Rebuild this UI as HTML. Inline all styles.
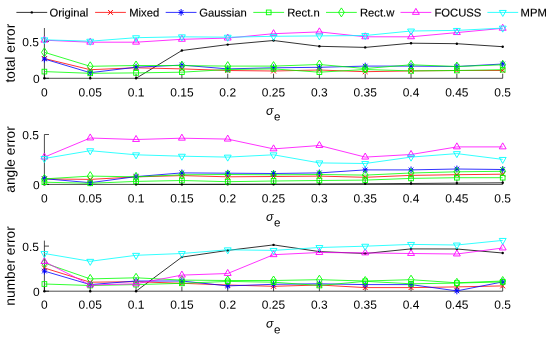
<!DOCTYPE html><html><head><meta charset="utf-8"><title>error plots</title><style>html,body{margin:0;padding:0;background:#fff}svg{display:block}text{font-family:"Liberation Sans",Arial,Helvetica,sans-serif;fill:#000}</style></head><body>
<svg width="550" height="341" viewBox="0 0 550 341">
<rect width="550" height="341" fill="#fff"/>
<path d="M16.4 12.4L47.2 12.4" stroke="#000" stroke-width="0.8" fill="none"/>
<circle cx="31.8" cy="12.4" r="1.2" fill="#000"/>
<text transform="matrix(1 0.0005 0 1 0 0)" x="49.6" y="16.58" font-size="11.25" text-anchor="start" stroke="#000" stroke-width="0.15">Original</text>
<path d="M95.1 12.4L125.9 12.4" stroke="#f00" stroke-width="0.8" fill="none"/>
<path d="M108.1 10L112.9 14.8M108.1 14.8L112.9 10" stroke="#f00" stroke-width="1.0" fill="none"/>
<text transform="matrix(1 0.0005 0 1 0 0)" x="129.2" y="16.54" font-size="11.25" text-anchor="start" stroke="#000" stroke-width="0.15">Mixed</text>
<path d="M165.7 12.4L196.5 12.4" stroke="#00f" stroke-width="0.8" fill="none"/>
<path d="M178.7 12.4L183.5 12.4M181.1 9L181.1 15.8M178.8 10.1L183.4 14.7M178.8 14.7L183.4 10.1" stroke="#00f" stroke-width="1.0" fill="none"/>
<text transform="matrix(1 0.0005 0 1 0 0)" x="199.2" y="16.5" font-size="11.25" text-anchor="start" stroke="#000" stroke-width="0.15">Gaussian</text>
<path d="M253.3 12.4L284.1 12.4" stroke="#0f0" stroke-width="0.8" fill="none"/>
<rect x="266.35" y="10.05" width="4.7" height="4.7" stroke="#0f0" stroke-width="0.9" fill="none"/>
<text transform="matrix(1 0.0005 0 1 0 0)" x="287.2" y="16.46" font-size="11.25" text-anchor="start" stroke="#000" stroke-width="0.15">Rect.n</text>
<path d="M326 12.4L356.8 12.4" stroke="#0f0" stroke-width="0.8" fill="none"/>
<path d="M341.4 7.9L344.3 12.4L341.4 16.9L338.5 12.4Z" stroke="#0f0" stroke-width="0.9" fill="none"/>
<text transform="matrix(1 0.0005 0 1 0 0)" x="359.9" y="16.42" font-size="11.25" text-anchor="start" stroke="#000" stroke-width="0.15">Rect.w</text>
<path d="M400.5 12.4L431.3 12.4" stroke="#f0f" stroke-width="0.8" fill="none"/>
<path d="M415.9 8.35L419.35 14.35L412.45 14.35Z" stroke="#f0f" stroke-width="0.9" fill="none"/>
<text transform="matrix(1 0.0005 0 1 0 0)" x="434.5" y="16.38" font-size="11.25" text-anchor="start" stroke="#000" stroke-width="0.15">FOCUSS</text>
<path d="M487.4 12.4L518.2 12.4" stroke="#0ff" stroke-width="0.8" fill="none"/>
<path d="M502.8 16.45L506.25 10.45L499.35 10.45Z" stroke="#0ff" stroke-width="0.9" fill="none"/>
<text transform="matrix(1 0.0005 0 1 0 0)" x="520.6" y="16.34" font-size="11.25" text-anchor="start" stroke="#000" stroke-width="0.15">MPM</text>
<path d="M44.4 28L44.4 78.3L502.7 78.3" stroke="#000" stroke-width="0.7" fill="none"/>
<path d="M44.4 78.3L44.4 73.7M90.23 78.3L90.23 73.7M136.06 78.3L136.06 73.7M181.89 78.3L181.89 73.7M227.72 78.3L227.72 73.7M273.55 78.3L273.55 73.7M319.38 78.3L319.38 73.7M365.21 78.3L365.21 73.7M411.04 78.3L411.04 73.7M456.87 78.3L456.87 73.7M502.7 78.3L502.7 73.7M44.4 78.3L49 78.3M44.4 41.4L49 41.4" stroke="#000" stroke-width="0.7" fill="none"/>
<text transform="matrix(1 0.0005 0 1 0 0)" x="44.4" y="96.38" font-size="12" text-anchor="middle">0</text>
<text transform="matrix(1 0.0005 0 1 0 0)" x="90.23" y="96.35" font-size="12" text-anchor="middle">0.05</text>
<text transform="matrix(1 0.0005 0 1 0 0)" x="136.06" y="96.33" font-size="12" text-anchor="middle">0.1</text>
<text transform="matrix(1 0.0005 0 1 0 0)" x="181.89" y="96.31" font-size="12" text-anchor="middle">0.15</text>
<text transform="matrix(1 0.0005 0 1 0 0)" x="227.72" y="96.29" font-size="12" text-anchor="middle">0.2</text>
<text transform="matrix(1 0.0005 0 1 0 0)" x="273.55" y="96.26" font-size="12" text-anchor="middle">0.25</text>
<text transform="matrix(1 0.0005 0 1 0 0)" x="319.38" y="96.24" font-size="12" text-anchor="middle">0.3</text>
<text transform="matrix(1 0.0005 0 1 0 0)" x="365.21" y="96.22" font-size="12" text-anchor="middle">0.35</text>
<text transform="matrix(1 0.0005 0 1 0 0)" x="411.04" y="96.19" font-size="12" text-anchor="middle">0.4</text>
<text transform="matrix(1 0.0005 0 1 0 0)" x="456.87" y="96.17" font-size="12" text-anchor="middle">0.45</text>
<text transform="matrix(1 0.0005 0 1 0 0)" x="502.7" y="96.15" font-size="12" text-anchor="middle">0.5</text>
<text transform="matrix(1 0.0005 0 1 0 0)" x="39.6" y="83.08" font-size="12" text-anchor="end">0</text>
<text transform="matrix(1 0.0005 0 1 0 0)" x="38.9" y="46.18" font-size="12" text-anchor="end">0.5</text>
<text transform="translate(14.8 53.15) rotate(-90) matrix(1 0.0005 0 1 0 0)" font-size="13.75" text-anchor="middle">total error</text>
<text transform="matrix(1 0.0005 0 1 0 0)" x="265.9" y="114.57" font-size="12.3" text-anchor="start" font-style="italic" font-family="'Liberation Serif','DejaVu Serif',serif">σ</text>
<text transform="matrix(1 0.0005 0 1 0 0)" x="274" y="120.36" font-size="11.6" text-anchor="start">e</text>
<path d="M136.06 78.3L181.89 50.5L227.72 44.6L273.55 40.5L319.38 46.3L365.21 47.4L411.04 43.2L456.87 43.7L502.7 46.7" stroke="#000" stroke-width="0.8" fill="none" stroke-linejoin="round"/>
<circle cx="44.4" cy="78.3" r="1.2" fill="#000"/>
<circle cx="90.23" cy="78.3" r="1.2" fill="#000"/>
<circle cx="136.06" cy="78.3" r="1.2" fill="#000"/>
<circle cx="181.89" cy="50.5" r="1.2" fill="#000"/>
<circle cx="227.72" cy="44.6" r="1.2" fill="#000"/>
<circle cx="273.55" cy="40.5" r="1.2" fill="#000"/>
<circle cx="319.38" cy="46.3" r="1.2" fill="#000"/>
<circle cx="365.21" cy="47.4" r="1.2" fill="#000"/>
<circle cx="411.04" cy="43.2" r="1.2" fill="#000"/>
<circle cx="456.87" cy="43.7" r="1.2" fill="#000"/>
<circle cx="502.7" cy="46.7" r="1.2" fill="#000"/>
<path d="M44.4 58.5L90.23 69.7L136.06 67.8L181.89 68.9L227.72 70.5L273.55 71L319.38 70L365.21 71.7L411.04 70.9L456.87 70.5L502.7 70.5" stroke="#f00" stroke-width="0.8" fill="none" stroke-linejoin="round"/>
<path d="M42 56.1L46.8 60.9M42 60.9L46.8 56.1" stroke="#f00" stroke-width="1.0" fill="none"/>
<path d="M87.83 67.3L92.63 72.1M87.83 72.1L92.63 67.3" stroke="#f00" stroke-width="1.0" fill="none"/>
<path d="M133.66 65.4L138.46 70.2M133.66 70.2L138.46 65.4" stroke="#f00" stroke-width="1.0" fill="none"/>
<path d="M179.49 66.5L184.29 71.3M179.49 71.3L184.29 66.5" stroke="#f00" stroke-width="1.0" fill="none"/>
<path d="M225.32 68.1L230.12 72.9M225.32 72.9L230.12 68.1" stroke="#f00" stroke-width="1.0" fill="none"/>
<path d="M271.15 68.6L275.95 73.4M271.15 73.4L275.95 68.6" stroke="#f00" stroke-width="1.0" fill="none"/>
<path d="M316.98 67.6L321.78 72.4M316.98 72.4L321.78 67.6" stroke="#f00" stroke-width="1.0" fill="none"/>
<path d="M362.81 69.3L367.61 74.1M362.81 74.1L367.61 69.3" stroke="#f00" stroke-width="1.0" fill="none"/>
<path d="M408.64 68.5L413.44 73.3M408.64 73.3L413.44 68.5" stroke="#f00" stroke-width="1.0" fill="none"/>
<path d="M454.47 68.1L459.27 72.9M454.47 72.9L459.27 68.1" stroke="#f00" stroke-width="1.0" fill="none"/>
<path d="M500.3 68.1L505.1 72.9M500.3 72.9L505.1 68.1" stroke="#f00" stroke-width="1.0" fill="none"/>
<path d="M44.4 59L90.23 72.7L136.06 67.2L181.89 65.1L227.72 68.9L273.55 67.8L319.38 67.3L365.21 66.1L411.04 66.1L456.87 66.5L502.7 64" stroke="#00f" stroke-width="0.8" fill="none" stroke-linejoin="round"/>
<path d="M42 59L46.8 59M44.4 55.6L44.4 62.4M42.1 56.7L46.7 61.3M42.1 61.3L46.7 56.7" stroke="#00f" stroke-width="1.0" fill="none"/>
<path d="M87.83 72.7L92.63 72.7M90.23 69.3L90.23 76.1M87.93 70.4L92.53 75M87.93 75L92.53 70.4" stroke="#00f" stroke-width="1.0" fill="none"/>
<path d="M133.66 67.2L138.46 67.2M136.06 63.8L136.06 70.6M133.76 64.9L138.36 69.5M133.76 69.5L138.36 64.9" stroke="#00f" stroke-width="1.0" fill="none"/>
<path d="M179.49 65.1L184.29 65.1M181.89 61.7L181.89 68.5M179.59 62.8L184.19 67.4M179.59 67.4L184.19 62.8" stroke="#00f" stroke-width="1.0" fill="none"/>
<path d="M225.32 68.9L230.12 68.9M227.72 65.5L227.72 72.3M225.42 66.6L230.02 71.2M225.42 71.2L230.02 66.6" stroke="#00f" stroke-width="1.0" fill="none"/>
<path d="M271.15 67.8L275.95 67.8M273.55 64.4L273.55 71.2M271.25 65.5L275.85 70.1M271.25 70.1L275.85 65.5" stroke="#00f" stroke-width="1.0" fill="none"/>
<path d="M316.98 67.3L321.78 67.3M319.38 63.9L319.38 70.7M317.08 65L321.68 69.6M317.08 69.6L321.68 65" stroke="#00f" stroke-width="1.0" fill="none"/>
<path d="M362.81 66.1L367.61 66.1M365.21 62.7L365.21 69.5M362.91 63.8L367.51 68.4M362.91 68.4L367.51 63.8" stroke="#00f" stroke-width="1.0" fill="none"/>
<path d="M408.64 66.1L413.44 66.1M411.04 62.7L411.04 69.5M408.74 63.8L413.34 68.4M408.74 68.4L413.34 63.8" stroke="#00f" stroke-width="1.0" fill="none"/>
<path d="M454.47 66.5L459.27 66.5M456.87 63.1L456.87 69.9M454.57 64.2L459.17 68.8M454.57 68.8L459.17 64.2" stroke="#00f" stroke-width="1.0" fill="none"/>
<path d="M500.3 64L505.1 64M502.7 60.6L502.7 67.4M500.4 61.7L505 66.3M500.4 66.3L505 61.7" stroke="#00f" stroke-width="1.0" fill="none"/>
<path d="M44.4 71.6L90.23 73.3L136.06 72.9L181.89 72.2L227.72 69.5L273.55 68.9L319.38 72.2L365.21 69.5L411.04 70.9L456.87 70.5L502.7 69.7" stroke="#0f0" stroke-width="0.8" fill="none" stroke-linejoin="round"/>
<rect x="42.05" y="69.25" width="4.7" height="4.7" stroke="#0f0" stroke-width="0.9" fill="none"/>
<rect x="87.88" y="70.95" width="4.7" height="4.7" stroke="#0f0" stroke-width="0.9" fill="none"/>
<rect x="133.71" y="70.55" width="4.7" height="4.7" stroke="#0f0" stroke-width="0.9" fill="none"/>
<rect x="179.54" y="69.85" width="4.7" height="4.7" stroke="#0f0" stroke-width="0.9" fill="none"/>
<rect x="225.37" y="67.15" width="4.7" height="4.7" stroke="#0f0" stroke-width="0.9" fill="none"/>
<rect x="271.2" y="66.55" width="4.7" height="4.7" stroke="#0f0" stroke-width="0.9" fill="none"/>
<rect x="317.03" y="69.85" width="4.7" height="4.7" stroke="#0f0" stroke-width="0.9" fill="none"/>
<rect x="362.86" y="67.15" width="4.7" height="4.7" stroke="#0f0" stroke-width="0.9" fill="none"/>
<rect x="408.69" y="68.55" width="4.7" height="4.7" stroke="#0f0" stroke-width="0.9" fill="none"/>
<rect x="454.52" y="68.15" width="4.7" height="4.7" stroke="#0f0" stroke-width="0.9" fill="none"/>
<rect x="500.35" y="67.35" width="4.7" height="4.7" stroke="#0f0" stroke-width="0.9" fill="none"/>
<path d="M44.4 52.3L90.23 66.3L136.06 65.5L181.89 65.6L227.72 66.1L273.55 66.1L319.38 64.5L365.21 68.5L411.04 64.8L456.87 66.5L502.7 64.8" stroke="#0f0" stroke-width="0.8" fill="none" stroke-linejoin="round"/>
<path d="M44.4 47.8L47.3 52.3L44.4 56.8L41.5 52.3Z" stroke="#0f0" stroke-width="0.9" fill="none"/>
<path d="M90.23 61.8L93.13 66.3L90.23 70.8L87.33 66.3Z" stroke="#0f0" stroke-width="0.9" fill="none"/>
<path d="M136.06 61L138.96 65.5L136.06 70L133.16 65.5Z" stroke="#0f0" stroke-width="0.9" fill="none"/>
<path d="M181.89 61.1L184.79 65.6L181.89 70.1L178.99 65.6Z" stroke="#0f0" stroke-width="0.9" fill="none"/>
<path d="M227.72 61.6L230.62 66.1L227.72 70.6L224.82 66.1Z" stroke="#0f0" stroke-width="0.9" fill="none"/>
<path d="M273.55 61.6L276.45 66.1L273.55 70.6L270.65 66.1Z" stroke="#0f0" stroke-width="0.9" fill="none"/>
<path d="M319.38 60L322.28 64.5L319.38 69L316.48 64.5Z" stroke="#0f0" stroke-width="0.9" fill="none"/>
<path d="M365.21 64L368.11 68.5L365.21 73L362.31 68.5Z" stroke="#0f0" stroke-width="0.9" fill="none"/>
<path d="M411.04 60.3L413.94 64.8L411.04 69.3L408.14 64.8Z" stroke="#0f0" stroke-width="0.9" fill="none"/>
<path d="M456.87 62L459.77 66.5L456.87 71L453.97 66.5Z" stroke="#0f0" stroke-width="0.9" fill="none"/>
<path d="M502.7 60.3L505.6 64.8L502.7 69.3L499.8 64.8Z" stroke="#0f0" stroke-width="0.9" fill="none"/>
<path d="M44.4 40.2L90.23 42.2L136.06 42.2L181.89 39.3L227.72 38.1L273.55 33.7L319.38 31.9L365.21 36.8L411.04 36.8L456.87 32.6L502.7 28.3" stroke="#f0f" stroke-width="0.8" fill="none" stroke-linejoin="round"/>
<path d="M44.4 36.15L47.85 42.15L40.95 42.15Z" stroke="#f0f" stroke-width="0.9" fill="none"/>
<path d="M90.23 38.15L93.68 44.15L86.78 44.15Z" stroke="#f0f" stroke-width="0.9" fill="none"/>
<path d="M136.06 38.15L139.51 44.15L132.61 44.15Z" stroke="#f0f" stroke-width="0.9" fill="none"/>
<path d="M181.89 35.25L185.34 41.25L178.44 41.25Z" stroke="#f0f" stroke-width="0.9" fill="none"/>
<path d="M227.72 34.05L231.17 40.05L224.27 40.05Z" stroke="#f0f" stroke-width="0.9" fill="none"/>
<path d="M273.55 29.65L277 35.65L270.1 35.65Z" stroke="#f0f" stroke-width="0.9" fill="none"/>
<path d="M319.38 27.85L322.83 33.85L315.93 33.85Z" stroke="#f0f" stroke-width="0.9" fill="none"/>
<path d="M365.21 32.75L368.66 38.75L361.76 38.75Z" stroke="#f0f" stroke-width="0.9" fill="none"/>
<path d="M411.04 32.75L414.49 38.75L407.59 38.75Z" stroke="#f0f" stroke-width="0.9" fill="none"/>
<path d="M456.87 28.55L460.32 34.55L453.42 34.55Z" stroke="#f0f" stroke-width="0.9" fill="none"/>
<path d="M502.7 24.25L506.15 30.25L499.25 30.25Z" stroke="#f0f" stroke-width="0.9" fill="none"/>
<path d="M44.4 39.8L90.23 41.2L136.06 37.7L181.89 36.8L227.72 37.2L273.55 36.3L319.38 35.9L365.21 35.5L411.04 31L456.87 30.4L502.7 28.1" stroke="#0ff" stroke-width="0.8" fill="none" stroke-linejoin="round"/>
<path d="M44.4 43.85L47.85 37.85L40.95 37.85Z" stroke="#0ff" stroke-width="0.9" fill="none"/>
<path d="M90.23 45.25L93.68 39.25L86.78 39.25Z" stroke="#0ff" stroke-width="0.9" fill="none"/>
<path d="M136.06 41.75L139.51 35.75L132.61 35.75Z" stroke="#0ff" stroke-width="0.9" fill="none"/>
<path d="M181.89 40.85L185.34 34.85L178.44 34.85Z" stroke="#0ff" stroke-width="0.9" fill="none"/>
<path d="M227.72 41.25L231.17 35.25L224.27 35.25Z" stroke="#0ff" stroke-width="0.9" fill="none"/>
<path d="M273.55 40.35L277 34.35L270.1 34.35Z" stroke="#0ff" stroke-width="0.9" fill="none"/>
<path d="M319.38 39.95L322.83 33.95L315.93 33.95Z" stroke="#0ff" stroke-width="0.9" fill="none"/>
<path d="M365.21 39.55L368.66 33.55L361.76 33.55Z" stroke="#0ff" stroke-width="0.9" fill="none"/>
<path d="M411.04 35.05L414.49 29.05L407.59 29.05Z" stroke="#0ff" stroke-width="0.9" fill="none"/>
<path d="M456.87 34.45L460.32 28.45L453.42 28.45Z" stroke="#0ff" stroke-width="0.9" fill="none"/>
<path d="M502.7 32.15L506.15 26.15L499.25 26.15Z" stroke="#0ff" stroke-width="0.9" fill="none"/>
<path d="M44.4 134.5L44.4 184.4L502.7 184.4" stroke="#000" stroke-width="0.7" fill="none"/>
<path d="M44.4 184.4L44.4 179.8M90.23 184.4L90.23 179.8M136.06 184.4L136.06 179.8M181.89 184.4L181.89 179.8M227.72 184.4L227.72 179.8M273.55 184.4L273.55 179.8M319.38 184.4L319.38 179.8M365.21 184.4L365.21 179.8M411.04 184.4L411.04 179.8M456.87 184.4L456.87 179.8M502.7 184.4L502.7 179.8M44.4 184.4L49 184.4M44.4 134.5L49 134.5" stroke="#000" stroke-width="0.7" fill="none"/>
<text transform="matrix(1 0.0005 0 1 0 0)" x="44.4" y="202.38" font-size="12" text-anchor="middle">0</text>
<text transform="matrix(1 0.0005 0 1 0 0)" x="90.23" y="202.35" font-size="12" text-anchor="middle">0.05</text>
<text transform="matrix(1 0.0005 0 1 0 0)" x="136.06" y="202.33" font-size="12" text-anchor="middle">0.1</text>
<text transform="matrix(1 0.0005 0 1 0 0)" x="181.89" y="202.31" font-size="12" text-anchor="middle">0.15</text>
<text transform="matrix(1 0.0005 0 1 0 0)" x="227.72" y="202.29" font-size="12" text-anchor="middle">0.2</text>
<text transform="matrix(1 0.0005 0 1 0 0)" x="273.55" y="202.26" font-size="12" text-anchor="middle">0.25</text>
<text transform="matrix(1 0.0005 0 1 0 0)" x="319.38" y="202.24" font-size="12" text-anchor="middle">0.3</text>
<text transform="matrix(1 0.0005 0 1 0 0)" x="365.21" y="202.22" font-size="12" text-anchor="middle">0.35</text>
<text transform="matrix(1 0.0005 0 1 0 0)" x="411.04" y="202.19" font-size="12" text-anchor="middle">0.4</text>
<text transform="matrix(1 0.0005 0 1 0 0)" x="456.87" y="202.17" font-size="12" text-anchor="middle">0.45</text>
<text transform="matrix(1 0.0005 0 1 0 0)" x="502.7" y="202.15" font-size="12" text-anchor="middle">0.5</text>
<text transform="matrix(1 0.0005 0 1 0 0)" x="39.6" y="189.18" font-size="12" text-anchor="end">0</text>
<text transform="matrix(1 0.0005 0 1 0 0)" x="38.9" y="139.28" font-size="12" text-anchor="end">0.5</text>
<text transform="translate(14.8 159.45) rotate(-90) matrix(1 0.0005 0 1 0 0)" font-size="13.75" text-anchor="middle">angle error</text>
<text transform="matrix(1 0.0005 0 1 0 0)" x="265.9" y="220.67" font-size="12.3" text-anchor="start" font-style="italic" font-family="'Liberation Serif','DejaVu Serif',serif">σ</text>
<text transform="matrix(1 0.0005 0 1 0 0)" x="274" y="226.46" font-size="11.6" text-anchor="start">e</text>
<path d="M136.06 184.4L181.89 184.4L227.72 184.3L273.55 184.2L319.38 184L365.21 183.8L411.04 183.5L456.87 183.1L502.7 182.8" stroke="#000" stroke-width="0.8" fill="none" stroke-linejoin="round"/>
<circle cx="44.4" cy="184.4" r="1.2" fill="#000"/>
<circle cx="90.23" cy="184.4" r="1.2" fill="#000"/>
<circle cx="136.06" cy="184.4" r="1.2" fill="#000"/>
<circle cx="181.89" cy="184.4" r="1.2" fill="#000"/>
<circle cx="227.72" cy="184.3" r="1.2" fill="#000"/>
<circle cx="273.55" cy="184.2" r="1.2" fill="#000"/>
<circle cx="319.38" cy="184" r="1.2" fill="#000"/>
<circle cx="365.21" cy="183.8" r="1.2" fill="#000"/>
<circle cx="411.04" cy="183.5" r="1.2" fill="#000"/>
<circle cx="456.87" cy="183.1" r="1.2" fill="#000"/>
<circle cx="502.7" cy="182.8" r="1.2" fill="#000"/>
<path d="M44.4 178.9L90.23 179.4L136.06 176.9L181.89 175.6L227.72 176.8L273.55 176.5L319.38 176.1L365.21 177.3L411.04 175.4L456.87 174.7L502.7 174.2" stroke="#f00" stroke-width="0.8" fill="none" stroke-linejoin="round"/>
<path d="M42 176.5L46.8 181.3M42 181.3L46.8 176.5" stroke="#f00" stroke-width="1.0" fill="none"/>
<path d="M87.83 177L92.63 181.8M87.83 181.8L92.63 177" stroke="#f00" stroke-width="1.0" fill="none"/>
<path d="M133.66 174.5L138.46 179.3M133.66 179.3L138.46 174.5" stroke="#f00" stroke-width="1.0" fill="none"/>
<path d="M179.49 173.2L184.29 178M179.49 178L184.29 173.2" stroke="#f00" stroke-width="1.0" fill="none"/>
<path d="M225.32 174.4L230.12 179.2M225.32 179.2L230.12 174.4" stroke="#f00" stroke-width="1.0" fill="none"/>
<path d="M271.15 174.1L275.95 178.9M271.15 178.9L275.95 174.1" stroke="#f00" stroke-width="1.0" fill="none"/>
<path d="M316.98 173.7L321.78 178.5M316.98 178.5L321.78 173.7" stroke="#f00" stroke-width="1.0" fill="none"/>
<path d="M362.81 174.9L367.61 179.7M362.81 179.7L367.61 174.9" stroke="#f00" stroke-width="1.0" fill="none"/>
<path d="M408.64 173L413.44 177.8M408.64 177.8L413.44 173" stroke="#f00" stroke-width="1.0" fill="none"/>
<path d="M454.47 172.3L459.27 177.1M454.47 177.1L459.27 172.3" stroke="#f00" stroke-width="1.0" fill="none"/>
<path d="M500.3 171.8L505.1 176.6M500.3 176.6L505.1 171.8" stroke="#f00" stroke-width="1.0" fill="none"/>
<path d="M44.4 178.7L90.23 182.7L136.06 176.6L181.89 172.9L227.72 173.2L273.55 173.5L319.38 172.9L365.21 169.9L411.04 169.9L456.87 169L502.7 169.5" stroke="#00f" stroke-width="0.8" fill="none" stroke-linejoin="round"/>
<path d="M42 178.7L46.8 178.7M44.4 175.3L44.4 182.1M42.1 176.4L46.7 181M42.1 181L46.7 176.4" stroke="#00f" stroke-width="1.0" fill="none"/>
<path d="M87.83 182.7L92.63 182.7M90.23 179.3L90.23 186.1M87.93 180.4L92.53 185M87.93 185L92.53 180.4" stroke="#00f" stroke-width="1.0" fill="none"/>
<path d="M133.66 176.6L138.46 176.6M136.06 173.2L136.06 180M133.76 174.3L138.36 178.9M133.76 178.9L138.36 174.3" stroke="#00f" stroke-width="1.0" fill="none"/>
<path d="M179.49 172.9L184.29 172.9M181.89 169.5L181.89 176.3M179.59 170.6L184.19 175.2M179.59 175.2L184.19 170.6" stroke="#00f" stroke-width="1.0" fill="none"/>
<path d="M225.32 173.2L230.12 173.2M227.72 169.8L227.72 176.6M225.42 170.9L230.02 175.5M225.42 175.5L230.02 170.9" stroke="#00f" stroke-width="1.0" fill="none"/>
<path d="M271.15 173.5L275.95 173.5M273.55 170.1L273.55 176.9M271.25 171.2L275.85 175.8M271.25 175.8L275.85 171.2" stroke="#00f" stroke-width="1.0" fill="none"/>
<path d="M316.98 172.9L321.78 172.9M319.38 169.5L319.38 176.3M317.08 170.6L321.68 175.2M317.08 175.2L321.68 170.6" stroke="#00f" stroke-width="1.0" fill="none"/>
<path d="M362.81 169.9L367.61 169.9M365.21 166.5L365.21 173.3M362.91 167.6L367.51 172.2M362.91 172.2L367.51 167.6" stroke="#00f" stroke-width="1.0" fill="none"/>
<path d="M408.64 169.9L413.44 169.9M411.04 166.5L411.04 173.3M408.74 167.6L413.34 172.2M408.74 172.2L413.34 167.6" stroke="#00f" stroke-width="1.0" fill="none"/>
<path d="M454.47 169L459.27 169M456.87 165.6L456.87 172.4M454.57 166.7L459.17 171.3M454.57 171.3L459.17 166.7" stroke="#00f" stroke-width="1.0" fill="none"/>
<path d="M500.3 169.5L505.1 169.5M502.7 166.1L502.7 172.9M500.4 167.2L505 171.8M500.4 171.8L505 167.2" stroke="#00f" stroke-width="1.0" fill="none"/>
<path d="M44.4 182.2L90.23 183.3L136.06 181.4L181.89 180.5L227.72 181.7L273.55 181L319.38 180.5L365.21 180.1L411.04 178.4L456.87 177.7L502.7 177.7" stroke="#0f0" stroke-width="0.8" fill="none" stroke-linejoin="round"/>
<rect x="42.05" y="179.85" width="4.7" height="4.7" stroke="#0f0" stroke-width="0.9" fill="none"/>
<rect x="87.88" y="180.95" width="4.7" height="4.7" stroke="#0f0" stroke-width="0.9" fill="none"/>
<rect x="133.71" y="179.05" width="4.7" height="4.7" stroke="#0f0" stroke-width="0.9" fill="none"/>
<rect x="179.54" y="178.15" width="4.7" height="4.7" stroke="#0f0" stroke-width="0.9" fill="none"/>
<rect x="225.37" y="179.35" width="4.7" height="4.7" stroke="#0f0" stroke-width="0.9" fill="none"/>
<rect x="271.2" y="178.65" width="4.7" height="4.7" stroke="#0f0" stroke-width="0.9" fill="none"/>
<rect x="317.03" y="178.15" width="4.7" height="4.7" stroke="#0f0" stroke-width="0.9" fill="none"/>
<rect x="362.86" y="177.75" width="4.7" height="4.7" stroke="#0f0" stroke-width="0.9" fill="none"/>
<rect x="408.69" y="176.05" width="4.7" height="4.7" stroke="#0f0" stroke-width="0.9" fill="none"/>
<rect x="454.52" y="175.35" width="4.7" height="4.7" stroke="#0f0" stroke-width="0.9" fill="none"/>
<rect x="500.35" y="175.35" width="4.7" height="4.7" stroke="#0f0" stroke-width="0.9" fill="none"/>
<path d="M44.4 178.9L90.23 176.1L136.06 176.8L181.89 174.8L227.72 174.5L273.55 174.8L319.38 174.5L365.21 175.1L411.04 173L456.87 171.8L502.7 171.3" stroke="#0f0" stroke-width="0.8" fill="none" stroke-linejoin="round"/>
<path d="M44.4 174.4L47.3 178.9L44.4 183.4L41.5 178.9Z" stroke="#0f0" stroke-width="0.9" fill="none"/>
<path d="M90.23 171.6L93.13 176.1L90.23 180.6L87.33 176.1Z" stroke="#0f0" stroke-width="0.9" fill="none"/>
<path d="M136.06 172.3L138.96 176.8L136.06 181.3L133.16 176.8Z" stroke="#0f0" stroke-width="0.9" fill="none"/>
<path d="M181.89 170.3L184.79 174.8L181.89 179.3L178.99 174.8Z" stroke="#0f0" stroke-width="0.9" fill="none"/>
<path d="M227.72 170L230.62 174.5L227.72 179L224.82 174.5Z" stroke="#0f0" stroke-width="0.9" fill="none"/>
<path d="M273.55 170.3L276.45 174.8L273.55 179.3L270.65 174.8Z" stroke="#0f0" stroke-width="0.9" fill="none"/>
<path d="M319.38 170L322.28 174.5L319.38 179L316.48 174.5Z" stroke="#0f0" stroke-width="0.9" fill="none"/>
<path d="M365.21 170.6L368.11 175.1L365.21 179.6L362.31 175.1Z" stroke="#0f0" stroke-width="0.9" fill="none"/>
<path d="M411.04 168.5L413.94 173L411.04 177.5L408.14 173Z" stroke="#0f0" stroke-width="0.9" fill="none"/>
<path d="M456.87 167.3L459.77 171.8L456.87 176.3L453.97 171.8Z" stroke="#0f0" stroke-width="0.9" fill="none"/>
<path d="M502.7 166.8L505.6 171.3L502.7 175.8L499.8 171.3Z" stroke="#0f0" stroke-width="0.9" fill="none"/>
<path d="M44.4 157.1L90.23 138L136.06 139.5L181.89 138.2L227.72 139.1L273.55 148.9L319.38 145.5L365.21 157.1L411.04 154.5L456.87 146.9L502.7 146.9" stroke="#f0f" stroke-width="0.8" fill="none" stroke-linejoin="round"/>
<path d="M44.4 153.05L47.85 159.05L40.95 159.05Z" stroke="#f0f" stroke-width="0.9" fill="none"/>
<path d="M90.23 133.95L93.68 139.95L86.78 139.95Z" stroke="#f0f" stroke-width="0.9" fill="none"/>
<path d="M136.06 135.45L139.51 141.45L132.61 141.45Z" stroke="#f0f" stroke-width="0.9" fill="none"/>
<path d="M181.89 134.15L185.34 140.15L178.44 140.15Z" stroke="#f0f" stroke-width="0.9" fill="none"/>
<path d="M227.72 135.05L231.17 141.05L224.27 141.05Z" stroke="#f0f" stroke-width="0.9" fill="none"/>
<path d="M273.55 144.85L277 150.85L270.1 150.85Z" stroke="#f0f" stroke-width="0.9" fill="none"/>
<path d="M319.38 141.45L322.83 147.45L315.93 147.45Z" stroke="#f0f" stroke-width="0.9" fill="none"/>
<path d="M365.21 153.05L368.66 159.05L361.76 159.05Z" stroke="#f0f" stroke-width="0.9" fill="none"/>
<path d="M411.04 150.45L414.49 156.45L407.59 156.45Z" stroke="#f0f" stroke-width="0.9" fill="none"/>
<path d="M456.87 142.85L460.32 148.85L453.42 148.85Z" stroke="#f0f" stroke-width="0.9" fill="none"/>
<path d="M502.7 142.85L506.15 148.85L499.25 148.85Z" stroke="#f0f" stroke-width="0.9" fill="none"/>
<path d="M44.4 158.5L90.23 150.7L136.06 154.8L181.89 156.2L227.72 157.1L273.55 154.8L319.38 162.9L365.21 163.5L411.04 157.1L456.87 153.6L502.7 159.4" stroke="#0ff" stroke-width="0.8" fill="none" stroke-linejoin="round"/>
<path d="M44.4 162.55L47.85 156.55L40.95 156.55Z" stroke="#0ff" stroke-width="0.9" fill="none"/>
<path d="M90.23 154.75L93.68 148.75L86.78 148.75Z" stroke="#0ff" stroke-width="0.9" fill="none"/>
<path d="M136.06 158.85L139.51 152.85L132.61 152.85Z" stroke="#0ff" stroke-width="0.9" fill="none"/>
<path d="M181.89 160.25L185.34 154.25L178.44 154.25Z" stroke="#0ff" stroke-width="0.9" fill="none"/>
<path d="M227.72 161.15L231.17 155.15L224.27 155.15Z" stroke="#0ff" stroke-width="0.9" fill="none"/>
<path d="M273.55 158.85L277 152.85L270.1 152.85Z" stroke="#0ff" stroke-width="0.9" fill="none"/>
<path d="M319.38 166.95L322.83 160.95L315.93 160.95Z" stroke="#0ff" stroke-width="0.9" fill="none"/>
<path d="M365.21 167.55L368.66 161.55L361.76 161.55Z" stroke="#0ff" stroke-width="0.9" fill="none"/>
<path d="M411.04 161.15L414.49 155.15L407.59 155.15Z" stroke="#0ff" stroke-width="0.9" fill="none"/>
<path d="M456.87 157.65L460.32 151.65L453.42 151.65Z" stroke="#0ff" stroke-width="0.9" fill="none"/>
<path d="M502.7 163.45L506.15 157.45L499.25 157.45Z" stroke="#0ff" stroke-width="0.9" fill="none"/>
<path d="M44.4 240.6L44.4 291.2L502.7 291.2" stroke="#000" stroke-width="0.7" fill="none"/>
<path d="M44.4 291.2L44.4 286.6M90.23 291.2L90.23 286.6M136.06 291.2L136.06 286.6M181.89 291.2L181.89 286.6M227.72 291.2L227.72 286.6M273.55 291.2L273.55 286.6M319.38 291.2L319.38 286.6M365.21 291.2L365.21 286.6M411.04 291.2L411.04 286.6M456.87 291.2L456.87 286.6M502.7 291.2L502.7 286.6M44.4 291.2L49 291.2M44.4 246.1L49 246.1" stroke="#000" stroke-width="0.7" fill="none"/>
<text transform="matrix(1 0.0005 0 1 0 0)" x="44.4" y="308.68" font-size="12" text-anchor="middle">0</text>
<text transform="matrix(1 0.0005 0 1 0 0)" x="90.23" y="308.65" font-size="12" text-anchor="middle">0.05</text>
<text transform="matrix(1 0.0005 0 1 0 0)" x="136.06" y="308.63" font-size="12" text-anchor="middle">0.1</text>
<text transform="matrix(1 0.0005 0 1 0 0)" x="181.89" y="308.61" font-size="12" text-anchor="middle">0.15</text>
<text transform="matrix(1 0.0005 0 1 0 0)" x="227.72" y="308.59" font-size="12" text-anchor="middle">0.2</text>
<text transform="matrix(1 0.0005 0 1 0 0)" x="273.55" y="308.56" font-size="12" text-anchor="middle">0.25</text>
<text transform="matrix(1 0.0005 0 1 0 0)" x="319.38" y="308.54" font-size="12" text-anchor="middle">0.3</text>
<text transform="matrix(1 0.0005 0 1 0 0)" x="365.21" y="308.52" font-size="12" text-anchor="middle">0.35</text>
<text transform="matrix(1 0.0005 0 1 0 0)" x="411.04" y="308.49" font-size="12" text-anchor="middle">0.4</text>
<text transform="matrix(1 0.0005 0 1 0 0)" x="456.87" y="308.47" font-size="12" text-anchor="middle">0.45</text>
<text transform="matrix(1 0.0005 0 1 0 0)" x="502.7" y="308.45" font-size="12" text-anchor="middle">0.5</text>
<text transform="matrix(1 0.0005 0 1 0 0)" x="39.6" y="295.98" font-size="12" text-anchor="end">0</text>
<text transform="matrix(1 0.0005 0 1 0 0)" x="38.9" y="250.88" font-size="12" text-anchor="end">0.5</text>
<text transform="translate(14.8 265.9) rotate(-90) matrix(1 0.0005 0 1 0 0)" font-size="13.75" text-anchor="middle">number error</text>
<text transform="matrix(1 0.0005 0 1 0 0)" x="265.9" y="327.47" font-size="12.3" text-anchor="start" font-style="italic" font-family="'Liberation Serif','DejaVu Serif',serif">σ</text>
<text transform="matrix(1 0.0005 0 1 0 0)" x="274" y="333.26" font-size="11.6" text-anchor="start">e</text>
<path d="M136.06 291.2L181.89 257.1L227.72 250.4L273.55 244.9L319.38 251.6L365.21 253.5L411.04 248.9L456.87 249L502.7 253" stroke="#000" stroke-width="0.8" fill="none" stroke-linejoin="round"/>
<circle cx="44.4" cy="291.2" r="1.2" fill="#000"/>
<circle cx="90.23" cy="291.2" r="1.2" fill="#000"/>
<circle cx="136.06" cy="291.2" r="1.2" fill="#000"/>
<circle cx="181.89" cy="257.1" r="1.2" fill="#000"/>
<circle cx="227.72" cy="250.4" r="1.2" fill="#000"/>
<circle cx="273.55" cy="244.9" r="1.2" fill="#000"/>
<circle cx="319.38" cy="251.6" r="1.2" fill="#000"/>
<circle cx="365.21" cy="253.5" r="1.2" fill="#000"/>
<circle cx="411.04" cy="248.9" r="1.2" fill="#000"/>
<circle cx="456.87" cy="249" r="1.2" fill="#000"/>
<circle cx="502.7" cy="253" r="1.2" fill="#000"/>
<path d="M44.4 268L90.23 282.2L136.06 281.7L181.89 283.3L227.72 285L273.55 286.3L319.38 285L365.21 287.6L411.04 287.6L456.87 286.9L502.7 285.9" stroke="#f00" stroke-width="0.8" fill="none" stroke-linejoin="round"/>
<path d="M42 265.6L46.8 270.4M42 270.4L46.8 265.6" stroke="#f00" stroke-width="1.0" fill="none"/>
<path d="M87.83 279.8L92.63 284.6M87.83 284.6L92.63 279.8" stroke="#f00" stroke-width="1.0" fill="none"/>
<path d="M133.66 279.3L138.46 284.1M133.66 284.1L138.46 279.3" stroke="#f00" stroke-width="1.0" fill="none"/>
<path d="M179.49 280.9L184.29 285.7M179.49 285.7L184.29 280.9" stroke="#f00" stroke-width="1.0" fill="none"/>
<path d="M225.32 282.6L230.12 287.4M225.32 287.4L230.12 282.6" stroke="#f00" stroke-width="1.0" fill="none"/>
<path d="M271.15 283.9L275.95 288.7M271.15 288.7L275.95 283.9" stroke="#f00" stroke-width="1.0" fill="none"/>
<path d="M316.98 282.6L321.78 287.4M316.98 287.4L321.78 282.6" stroke="#f00" stroke-width="1.0" fill="none"/>
<path d="M362.81 285.2L367.61 290M362.81 290L367.61 285.2" stroke="#f00" stroke-width="1.0" fill="none"/>
<path d="M408.64 285.2L413.44 290M408.64 290L413.44 285.2" stroke="#f00" stroke-width="1.0" fill="none"/>
<path d="M454.47 284.5L459.27 289.3M454.47 289.3L459.27 284.5" stroke="#f00" stroke-width="1.0" fill="none"/>
<path d="M500.3 283.5L505.1 288.3M500.3 288.3L505.1 283.5" stroke="#f00" stroke-width="1.0" fill="none"/>
<path d="M44.4 271.1L90.23 284.6L136.06 281L181.89 281L227.72 285.9L273.55 284.3L319.38 283.8L365.21 284.6L411.04 284.6L456.87 290.9L502.7 281.9" stroke="#00f" stroke-width="0.8" fill="none" stroke-linejoin="round"/>
<path d="M42 271.1L46.8 271.1M44.4 267.7L44.4 274.5M42.1 268.8L46.7 273.4M42.1 273.4L46.7 268.8" stroke="#00f" stroke-width="1.0" fill="none"/>
<path d="M87.83 284.6L92.63 284.6M90.23 281.2L90.23 288M87.93 282.3L92.53 286.9M87.93 286.9L92.53 282.3" stroke="#00f" stroke-width="1.0" fill="none"/>
<path d="M133.66 281L138.46 281M136.06 277.6L136.06 284.4M133.76 278.7L138.36 283.3M133.76 283.3L138.36 278.7" stroke="#00f" stroke-width="1.0" fill="none"/>
<path d="M179.49 281L184.29 281M181.89 277.6L181.89 284.4M179.59 278.7L184.19 283.3M179.59 283.3L184.19 278.7" stroke="#00f" stroke-width="1.0" fill="none"/>
<path d="M225.32 285.9L230.12 285.9M227.72 282.5L227.72 289.3M225.42 283.6L230.02 288.2M225.42 288.2L230.02 283.6" stroke="#00f" stroke-width="1.0" fill="none"/>
<path d="M271.15 284.3L275.95 284.3M273.55 280.9L273.55 287.7M271.25 282L275.85 286.6M271.25 286.6L275.85 282" stroke="#00f" stroke-width="1.0" fill="none"/>
<path d="M316.98 283.8L321.78 283.8M319.38 280.4L319.38 287.2M317.08 281.5L321.68 286.1M317.08 286.1L321.68 281.5" stroke="#00f" stroke-width="1.0" fill="none"/>
<path d="M362.81 284.6L367.61 284.6M365.21 281.2L365.21 288M362.91 282.3L367.51 286.9M362.91 286.9L367.51 282.3" stroke="#00f" stroke-width="1.0" fill="none"/>
<path d="M408.64 284.6L413.44 284.6M411.04 281.2L411.04 288M408.74 282.3L413.34 286.9M408.74 286.9L413.34 282.3" stroke="#00f" stroke-width="1.0" fill="none"/>
<path d="M454.47 290.9L459.27 290.9M456.87 287.5L456.87 294.3M454.57 288.6L459.17 293.2M454.57 293.2L459.17 288.6" stroke="#00f" stroke-width="1.0" fill="none"/>
<path d="M500.3 281.9L505.1 281.9M502.7 278.5L502.7 285.3M500.4 279.6L505 284.2M500.4 284.2L505 279.6" stroke="#00f" stroke-width="1.0" fill="none"/>
<path d="M44.4 284L90.23 285.5L136.06 284.6L181.89 283.3L227.72 281.4L273.55 282.2L319.38 285.5L365.21 281.3L411.04 283.8L456.87 283.1L502.7 281.9" stroke="#0f0" stroke-width="0.8" fill="none" stroke-linejoin="round"/>
<rect x="42.05" y="281.65" width="4.7" height="4.7" stroke="#0f0" stroke-width="0.9" fill="none"/>
<rect x="87.88" y="283.15" width="4.7" height="4.7" stroke="#0f0" stroke-width="0.9" fill="none"/>
<rect x="133.71" y="282.25" width="4.7" height="4.7" stroke="#0f0" stroke-width="0.9" fill="none"/>
<rect x="179.54" y="280.95" width="4.7" height="4.7" stroke="#0f0" stroke-width="0.9" fill="none"/>
<rect x="225.37" y="279.05" width="4.7" height="4.7" stroke="#0f0" stroke-width="0.9" fill="none"/>
<rect x="271.2" y="279.85" width="4.7" height="4.7" stroke="#0f0" stroke-width="0.9" fill="none"/>
<rect x="317.03" y="283.15" width="4.7" height="4.7" stroke="#0f0" stroke-width="0.9" fill="none"/>
<rect x="362.86" y="278.95" width="4.7" height="4.7" stroke="#0f0" stroke-width="0.9" fill="none"/>
<rect x="408.69" y="281.45" width="4.7" height="4.7" stroke="#0f0" stroke-width="0.9" fill="none"/>
<rect x="454.52" y="280.75" width="4.7" height="4.7" stroke="#0f0" stroke-width="0.9" fill="none"/>
<rect x="500.35" y="279.55" width="4.7" height="4.7" stroke="#0f0" stroke-width="0.9" fill="none"/>
<path d="M44.4 263L90.23 278.9L136.06 277.8L181.89 280.1L227.72 280.5L273.55 280.5L319.38 279.7L365.21 281L411.04 279.7L456.87 282.8L502.7 281" stroke="#0f0" stroke-width="0.8" fill="none" stroke-linejoin="round"/>
<path d="M44.4 258.5L47.3 263L44.4 267.5L41.5 263Z" stroke="#0f0" stroke-width="0.9" fill="none"/>
<path d="M90.23 274.4L93.13 278.9L90.23 283.4L87.33 278.9Z" stroke="#0f0" stroke-width="0.9" fill="none"/>
<path d="M136.06 273.3L138.96 277.8L136.06 282.3L133.16 277.8Z" stroke="#0f0" stroke-width="0.9" fill="none"/>
<path d="M181.89 275.6L184.79 280.1L181.89 284.6L178.99 280.1Z" stroke="#0f0" stroke-width="0.9" fill="none"/>
<path d="M227.72 276L230.62 280.5L227.72 285L224.82 280.5Z" stroke="#0f0" stroke-width="0.9" fill="none"/>
<path d="M273.55 276L276.45 280.5L273.55 285L270.65 280.5Z" stroke="#0f0" stroke-width="0.9" fill="none"/>
<path d="M319.38 275.2L322.28 279.7L319.38 284.2L316.48 279.7Z" stroke="#0f0" stroke-width="0.9" fill="none"/>
<path d="M365.21 276.5L368.11 281L365.21 285.5L362.31 281Z" stroke="#0f0" stroke-width="0.9" fill="none"/>
<path d="M411.04 275.2L413.94 279.7L411.04 284.2L408.14 279.7Z" stroke="#0f0" stroke-width="0.9" fill="none"/>
<path d="M456.87 278.3L459.77 282.8L456.87 287.3L453.97 282.8Z" stroke="#0f0" stroke-width="0.9" fill="none"/>
<path d="M502.7 276.5L505.6 281L502.7 285.5L499.8 281Z" stroke="#0f0" stroke-width="0.9" fill="none"/>
<path d="M44.4 261.6L90.23 285L136.06 283.8L181.89 275.1L227.72 273.5L273.55 254.7L319.38 252.5L365.21 252.9L411.04 253.5L456.87 254L502.7 248" stroke="#f0f" stroke-width="0.8" fill="none" stroke-linejoin="round"/>
<path d="M44.4 257.55L47.85 263.55L40.95 263.55Z" stroke="#f0f" stroke-width="0.9" fill="none"/>
<path d="M90.23 280.95L93.68 286.95L86.78 286.95Z" stroke="#f0f" stroke-width="0.9" fill="none"/>
<path d="M136.06 279.75L139.51 285.75L132.61 285.75Z" stroke="#f0f" stroke-width="0.9" fill="none"/>
<path d="M181.89 271.05L185.34 277.05L178.44 277.05Z" stroke="#f0f" stroke-width="0.9" fill="none"/>
<path d="M227.72 269.45L231.17 275.45L224.27 275.45Z" stroke="#f0f" stroke-width="0.9" fill="none"/>
<path d="M273.55 250.65L277 256.65L270.1 256.65Z" stroke="#f0f" stroke-width="0.9" fill="none"/>
<path d="M319.38 248.45L322.83 254.45L315.93 254.45Z" stroke="#f0f" stroke-width="0.9" fill="none"/>
<path d="M365.21 248.85L368.66 254.85L361.76 254.85Z" stroke="#f0f" stroke-width="0.9" fill="none"/>
<path d="M411.04 249.45L414.49 255.45L407.59 255.45Z" stroke="#f0f" stroke-width="0.9" fill="none"/>
<path d="M456.87 249.95L460.32 255.95L453.42 255.95Z" stroke="#f0f" stroke-width="0.9" fill="none"/>
<path d="M502.7 243.95L506.15 249.95L499.25 249.95Z" stroke="#f0f" stroke-width="0.9" fill="none"/>
<path d="M44.4 253.5L90.23 261.3L136.06 255.3L181.89 253.5L227.72 249.8L273.55 250.4L319.38 247.5L365.21 246.2L411.04 244.4L456.87 245L502.7 240.4" stroke="#0ff" stroke-width="0.8" fill="none" stroke-linejoin="round"/>
<path d="M44.4 257.55L47.85 251.55L40.95 251.55Z" stroke="#0ff" stroke-width="0.9" fill="none"/>
<path d="M90.23 265.35L93.68 259.35L86.78 259.35Z" stroke="#0ff" stroke-width="0.9" fill="none"/>
<path d="M136.06 259.35L139.51 253.35L132.61 253.35Z" stroke="#0ff" stroke-width="0.9" fill="none"/>
<path d="M181.89 257.55L185.34 251.55L178.44 251.55Z" stroke="#0ff" stroke-width="0.9" fill="none"/>
<path d="M227.72 253.85L231.17 247.85L224.27 247.85Z" stroke="#0ff" stroke-width="0.9" fill="none"/>
<path d="M273.55 254.45L277 248.45L270.1 248.45Z" stroke="#0ff" stroke-width="0.9" fill="none"/>
<path d="M319.38 251.55L322.83 245.55L315.93 245.55Z" stroke="#0ff" stroke-width="0.9" fill="none"/>
<path d="M365.21 250.25L368.66 244.25L361.76 244.25Z" stroke="#0ff" stroke-width="0.9" fill="none"/>
<path d="M411.04 248.45L414.49 242.45L407.59 242.45Z" stroke="#0ff" stroke-width="0.9" fill="none"/>
<path d="M456.87 249.05L460.32 243.05L453.42 243.05Z" stroke="#0ff" stroke-width="0.9" fill="none"/>
<path d="M502.7 244.45L506.15 238.45L499.25 238.45Z" stroke="#0ff" stroke-width="0.9" fill="none"/>
</svg></body></html>
